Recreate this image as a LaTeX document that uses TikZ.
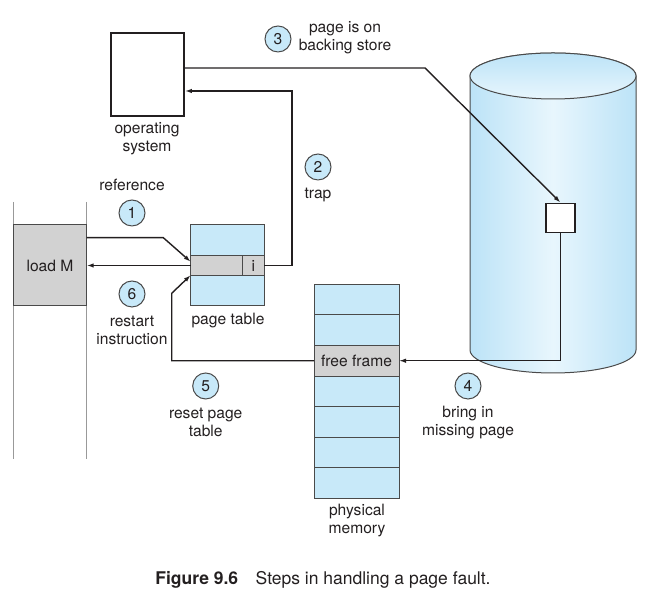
\documentclass[tikz,border=0pt]{standalone}
\usepackage{fontspec}
\setmainfont{TeX Gyre Heros}
\usepackage{tikz}
\usetikzlibrary{arrows.meta}

\definecolor{pageblue}{HTML}{C8E9F9}
\definecolor{rowgray}{HTML}{D2D2D2}
\definecolor{cylblue}{HTML}{BCE3F7}
\definecolor{cylpale}{HTML}{E8F6FD}
\definecolor{ink}{HTML}{231F20}
\definecolor{edge}{HTML}{4A4A4A}

\begin{document}
\begin{tikzpicture}[x=1pt, y=1pt, font=\fontsize{15.6}{18}\selectfont, text=ink,
    box/.style={draw=edge, line width=1pt, inner sep=0pt, outer sep=0pt},
    stepnum/.style={circle, draw=edge, line width=1pt, fill=pageblue, minimum size=26pt, inner sep=0pt},
    lbl/.style={align=center, inner sep=0pt},
    rail/.style={draw=gray!80, line width=1.3pt},
    link/.style={draw=ink, line width=1.4pt},
    arr/.style={link, -{Latex[length=7pt, width=4.5pt]}}]
        \useasboundingbox (0,0) rectangle (651,601);

        % backing store
        \path[draw=edge, line width=1pt, left color=cylblue, right color=cylblue, middle color=cylpale]
            (470,525) -- (470,251) arc[start angle=180, end angle=360, x radius=83pt, y radius=23pt]
            -- (636,525) arc[start angle=0, end angle=180, x radius=83pt, y radius=23pt] -- cycle;
        \path[draw=edge, line width=1pt, top color=cylblue, bottom color=cylpale]
            (553,525) ellipse[x radius=83pt, y radius=23pt];
        \node[draw=ink, line width=1.8pt, fill=white, minimum size=29pt, inner sep=0pt] (store) at (560.5,383) {};

        % operating system
        \node[draw=ink, line width=1.8pt, fill=white, minimum width=73pt, minimum height=83pt] (os) at (147.5,526.5) {};
        \node[lbl] (oslbl) at (147,462) {operating\\system};

        % process
        \foreach \x in {13.3, 86.7}
        \draw[rail] (\x,399) -- (\x,142);
        \node[box, fill=rowgray, minimum width=73.4pt, minimum height=81pt] (loadm) at (50,335.5) {load M};

        % page table
        \node[box, fill=pageblue, minimum width=73.6pt, minimum height=81pt] (ptab) at (227.5,335.5) {};
        \node[box, fill=rowgray, minimum width=73.6pt, minimum height=19.3pt] (row) at (ptab.center) {};
        \node[box, fill=rowgray, minimum width=22pt, minimum height=19.3pt, anchor=east] (cell) at (row.east) {i};
        \node[lbl] (ptlbl) at (228,280) {page table};

        % physical memory
        \foreach \i/\fc/\txt in {1/pageblue/{}, 2/pageblue/{}, 3/rowgray/free frame, 4/pageblue/{}, 5/pageblue/{}, 6/pageblue/{}, 7/pageblue/{}}
        \node[box, fill=\fc, minimum width=85pt, minimum height=30.57pt] (m\i) at (356.5, {316.7-30.57*(\i-0.5)}) {\txt};
        \node[lbl] (memlbl) at (357,80) {physical\\memory};

        % steps
        \coordinate (bend1) at (163.3,363.3);
        \coordinate (bend3) at (425,533);
        \coordinate (bend5) at (171.7,307.7);
        \draw[arr] ([yshift=27.8pt]loadm.east) -- (bend1) -- ([yshift=3.7pt]row.west);
        \draw[arr] (cell.east) -- ++(27.7,0) |- ([yshift=-16.5pt]os.east);
        \draw[arr] ([yshift=6.5pt]os.east) -- (bend3) -- (store.north);
        \draw[arr] (store.south) |- (m3.east);
        \draw[arr] (m3.west) -| (bend5) -- (row.south west);
        \draw[arr] (row.west) -- (row.west -| loadm.east);

        \node[lbl] (reflbl) at (132,416) {reference};
        \node[stepnum] (s1) at (132,388) {1};
        \node[stepnum] (s2) at (318,434) {2};
        \node[lbl] (traplbl) at (318,406) {trap};
        \node[stepnum] (s3) at (278,562) {3};
        \node[lbl] (storelbl) at (345,563.5) {page is on\\backing store};
        \node[stepnum] (s4) at (468,215) {4};
        \node[lbl] (bringlbl) at (468,178.5) {bring in\\missing page};
        \node[stepnum] (s5) at (205.7,215) {5};
        \node[lbl] (resetlbl) at (205.7,178.5) {reset page\\table};
        \node[stepnum] (s6) at (132,307) {6};
        \node[lbl] (restartlbl) at (132,271) {restart\\instruction};

        \node (caption) at (323,21) {\fontsize{17.5}{20}\selectfont\textbf{Figure 9.6}\hspace{1em}Steps in handling a page fault.};
    \end{tikzpicture}
\end{document}
